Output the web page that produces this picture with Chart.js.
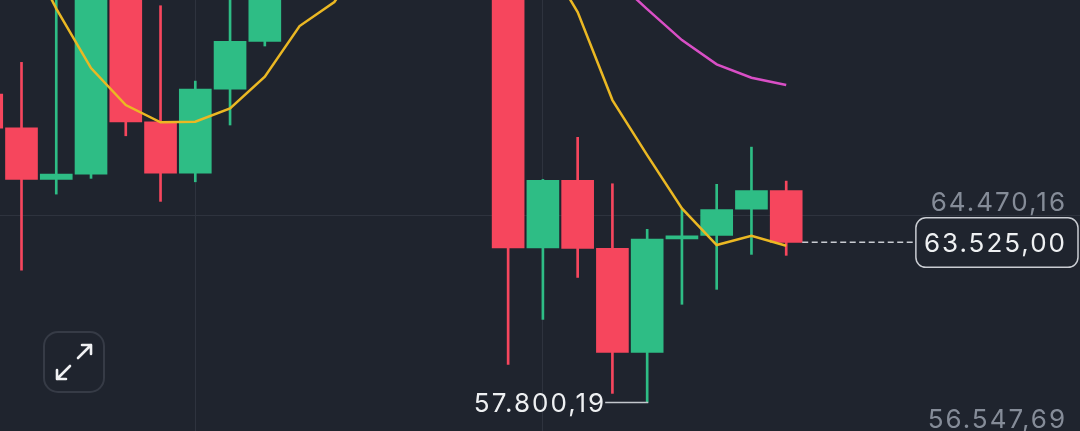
<!DOCTYPE html>
<html lang="en">
<head>
<meta charset="UTF-8">
<title>BTC candles</title>
<script src="https://cdn.jsdelivr.net/npm/chart.js"></script>
<style>
  html, body { margin: 0; padding: 0; background: #1f242e; overflow: hidden; }
  #wrap { position: relative; width: 1080px; height: 431px; }
  #expand { position: absolute; left: 43px; top: 331px; }
</style>
</head>
<body>
<div id="wrap">
  <canvas id="chart"></canvas>
  <svg id="expand" width="62" height="62" viewBox="0 0 62 62">
    <rect x="1" y="1" width="60" height="60" rx="14" fill="none" stroke="#363b46" stroke-width="2"/>
    <g stroke="#f0f1f3" stroke-width="2.6" fill="none" stroke-linecap="round" stroke-linejoin="round">
      <path d="M27 35 L14 48 M14 39 L14 48 L23 48"/>
      <path d="M35 27 L48 14 M39 14 L48 14 L48 23"/>
    </g>
  </svg>
</div>
<script>
// candle index (one per period), -1 is the one cut at the left edge
const idx    = [-1, 0, 1, 2, 3, 4, 5, 6, 7, 8, 9, 10, 11, 12, 13, 14, 15, 16, 17, 18, 19, 20, 21, 22];
const opens  = [68830, 67620, 65775, 65965, 72900, 67835, 66000, 69005, 70710, 73700, 78650, 77800, 81600, 77400, 77100, 73900, 63330, 65740, 63310, 59590, 63650, 63770, 64710, 65380];
const highs  = [69500, 69960, 72600, 73300, 73600, 71985, 69290, 72500, 74100, 79200, 79600, 82400, 81900, 78500, 77600, 74300, 65775, 67280, 65620, 63990, 64700, 65600, 66930, 65715];
const lows   = [66900, 62530, 65250, 65813, 67335, 64990, 65690, 67720, 70545, 73200, 76900, 77300, 76500, 75800, 73100, 59160, 60770, 62270, 58125, 57800.19, 61310, 61845, 63095, 63060];
const closes = [67610, 65775, 65965, 72900, 67835, 66000, 69005, 70710, 73700, 78650, 77800, 81600, 77400, 77100, 73900, 63330, 65740, 63310, 59590, 63640, 63760, 64700, 65380, 63525.00];

// moving averages
const ma7  = [75500, 74330, 71880, 69756, 68434, 67815, 67837, 68315, 69445, 71258, 72116, 73900, 75500, 76700, 77150, 75680, 73830, 71760, 68612, 66646, 64740, 63428, 63761, 63403];
const ma25 = [null, null, null, null, null, null, null, null, null, null, null, null, null, null, null, null, 75500, 74300, 73000, 71866, 70757, 69889, 69410, 69148];

const yTicks = [56547.69, 64470.16];
const xGridAt = [5, 15];

const UP = '#2ebd85', DOWN = '#f6465d';
const FONT = '26px Inter, "DejaVu Sans", sans-serif';

function fmt(v) {
  const parts = v.toFixed(2).split('.');
  return parts[0].replace(/\B(?=(\d{3})+(?!\d))/g, '.') + ',' + parts[1];
}

const colors = idx.map((_, i) => closes[i] >= opens[i] ? UP : DOWN);

const overlay = {
  id: 'overlay',
  afterDraw(chart) {
    const { ctx, width, height } = chart;
    const xs = chart.scales.x, ys = chart.scales.y;
    ctx.save();
    ctx.font = FONT;
    ctx.letterSpacing = '2px';
    ctx.textAlign = 'right';
    ctx.textBaseline = 'alphabetic';
    const right = width - 13;

    // price axis labels sit just above their grid line, kept inside the canvas
    ctx.fillStyle = '#858c98';
    ys.ticks.forEach(t => {
      const py = Math.min(ys.getPixelForValue(t.value) - 4.8, height - 3.3);
      ctx.fillText(fmt(t.value), right, py);
    });

    // last price: dashed line + boxed label
    const last = closes.length - 1;
    const py = ys.getPixelForValue(closes[last]);
    const txt = fmt(closes[last]);
    const tw = ctx.measureText(txt).width;
    const boxR = width - 2, boxL = right - tw - 8;
    ctx.strokeStyle = '#c9ccd2';
    ctx.lineWidth = 1.5;
    ctx.setLineDash([6, 3.5]);
    ctx.beginPath();
    ctx.moveTo(xs.getPixelForValue(idx[last]) + 16, py);
    ctx.lineTo(boxL, py);
    ctx.stroke();
    ctx.setLineDash([]);
    ctx.fillStyle = '#1f242e';
    ctx.beginPath();
    ctx.roundRect(boxL, py - 24.6, boxR - boxL, 49.6, 10);
    ctx.fill();
    ctx.stroke();
    ctx.fillStyle = '#eef0f2';
    ctx.fillText(txt, right, py + 10);

    // lowest low marker
    let k = 0;
    lows.forEach((v, i) => { if (v < lows[k]) k = i; });
    const lx = xs.getPixelForValue(idx[k]), ly = ys.getPixelForValue(lows[k]);
    ctx.strokeStyle = '#c3c7cd';
    ctx.beginPath();
    ctx.moveTo(lx + 1, ly);
    ctx.lineTo(lx - 42, ly);
    ctx.stroke();
    ctx.fillStyle = '#eef0f2';
    ctx.fillText(fmt(lows[k]), lx - 41, ly + 10);
    ctx.restore();
  }
};

new Chart(document.getElementById('chart'), {
  type: 'bar',
  data: {
    datasets: [
      {
        type: 'line', label: 'MA7', order: 0,
        data: idx.map((x, i) => ({ x, y: ma7[i] })),
        borderColor: '#ebb823', borderWidth: 2.5, pointRadius: 0, tension: 0
      },
      {
        type: 'line', label: 'MA25', order: 0,
        data: idx.map((x, i) => ({ x, y: ma25[i] })),
        borderColor: '#d94fc6', borderWidth: 2.5, pointRadius: 0, tension: 0
      },
      {
        label: 'body', order: 1, grouped: false, barThickness: 32,
        data: idx.map((x, i) => ({ x, y: [opens[i], closes[i]] })),
        backgroundColor: colors, borderWidth: 0
      },
      {
        label: 'wick', order: 2, grouped: false, barThickness: 2,
        data: idx.map((x, i) => ({ x, y: [lows[i], highs[i]] })),
        backgroundColor: colors, borderWidth: 0
      }
    ]
  },
  options: {
    responsive: true,
    maintainAspectRatio: false,
    animation: false,
    devicePixelRatio: 1,
    layout: { padding: 0, autoPadding: false },
    plugins: { legend: { display: false }, tooltip: { enabled: false } },
    scales: {
      x: {
        type: 'linear', min: -0.6185, max: 30.452, offset: false,
        afterBuildTicks: axis => { axis.ticks = xGridAt.map(v => ({ value: v })); },
        ticks: { display: false },
        grid: { color: '#2e333e', lineWidth: 1, drawTicks: false, offset: false },
        border: { display: false }
      },
      y: {
        type: 'linear', position: 'right', min: 56780, max: 72190,
        afterBuildTicks: axis => { axis.ticks = yTicks.map(v => ({ value: v })); },
        ticks: { display: false },
        grid: { color: '#2e333e', lineWidth: 1, drawTicks: false },
        border: { display: false }
      }
    }
  },
  plugins: [overlay]
});
</script>
</body>
</html>
